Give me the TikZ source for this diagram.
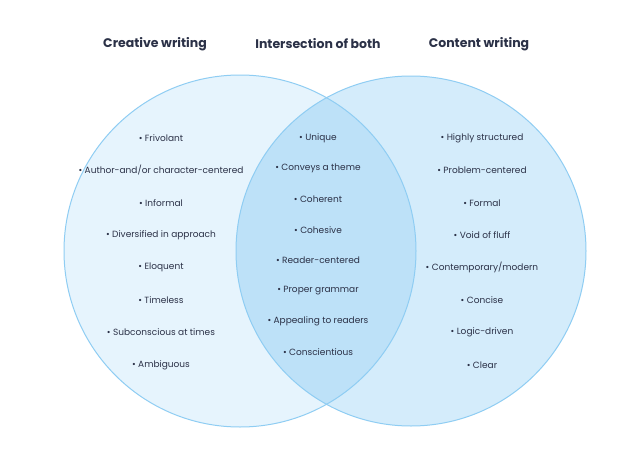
\documentclass[tikz,border=0pt]{standalone}
\usepackage{fontspec}
\setmainfont{Poppins}
\definecolor{txt}{HTML}{2B3147}
\definecolor{lfill}{HTML}{E6F4FD}
\definecolor{rfill}{HTML}{D4ECFB}
\definecolor{mfill}{HTML}{BDE1F8}
\definecolor{edge}{HTML}{8FCDF3}
\begin{document}
\begin{tikzpicture}[x=1pt,y=-1pt,
  item/.style={font=\fontsize{9}{11}\selectfont,text=txt,anchor=center},
  head/.style={font=\fontsize{12.5}{14}\selectfont\bfseries,text=txt}]
\useasboundingbox (0,0) rectangle (635,453);
\fill[white] (0,0) rectangle (635,453);
\fill[lfill] (240,251) circle (176);
\fill[rfill] (411,251) circle (175);
\begin{scope}
\clip (240,251) circle (176);
\fill[mfill] (411,251) circle (175);
\end{scope}
\draw[edge,line width=1pt] (240,251) circle (176);
\draw[edge,line width=1pt] (411,251) circle (175);
\node[head] (h1) at (155,44) {Creative writing};
\node[head] (h2) at (318,44) {Intersection of both};
\node[head] (h3) at (479,44) {Content writing};
\foreach \t [count=\i] in {Frivolant,Author-and/or character-centered,Informal,Diversified in approach,Eloquent,Timeless,Subconscious at times,Ambiguous}
  \node[item] (l\i) at (161,{138+32.4*(\i-1)}) {•\ \t};
\foreach \t [count=\i] in {Unique,Conveys a theme,Coherent,Cohesive,Reader-centered,Proper grammar,Appealing to readers,Conscientious}
  \node[item] (m\i) at (318,{138+30.6*(\i-1)}) {•\ \t};
\foreach \t [count=\i] in {Highly structured,Problem-centered,Formal,Void of fluff,Contemporary/modern,Concise,Logic-driven,Clear}
  \node[item] (r\i) at (482,{138+32.4*(\i-1)}) {•\ \t};
\end{tikzpicture}
\end{document}
